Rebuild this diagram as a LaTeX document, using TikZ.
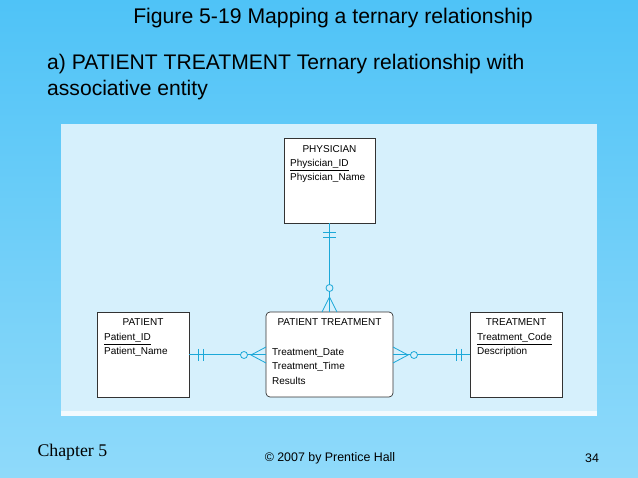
\documentclass[tikz,border=0pt]{standalone}
\usepackage{fontspec}
\setmainfont{Liberation Sans}
\newfontfamily\serifz{Liberation Serif}
\definecolor{bgtop}{HTML}{4FC3F7}
\definecolor{bgbot}{HTML}{8FDAFA}
\definecolor{panel}{HTML}{D6F0FC}
\definecolor{ln}{HTML}{1BA8D8}
\begin{document}
\begin{tikzpicture}[x=1pt,y=-1pt,
  ent/.style={draw=black!80,line width=0.7pt,fill=white,minimum width=92pt,minimum height=85pt,inner sep=0pt},
  etxt/.style={font=\fontsize{10}{14.5}\selectfont,align=left,anchor=north west,inner sep=0pt},
  rel/.style={draw=ln,line width=0.8pt}]
\shade[top color=bgtop,bottom color=bgbot] (0,0) rectangle (638,478);
\useasboundingbox (0,0) rectangle (638,478);
\fill[white!70!panel] (61,124) rectangle (597,416);
\fill[panel] (61,124) rectangle (597,411);
\node[font=\fontsize{21.2}{24}\selectfont] (title) at (333,18) {Figure 5-19 Mapping a ternary relationship};
\node[font=\fontsize{21.1}{26}\selectfont,align=left,anchor=north west,inner sep=0pt] (sub) at (47,54) {a) PATIENT TREATMENT Ternary relationship with\\associative entity};
% entities
\node[ent,minimum width=91pt] (phy) at (329.5,180.5) {};
\node[ent] (pat) at (143,354.5) {};
\node[ent,rounded corners=4pt,minimum width=127pt] (pt) at (329.5,354.5) {};
\node[ent] (trt) at (516,354.5) {};
\node[etxt,anchor=north] (phyh) at (329.5,145) {PHYSICIAN};
\node[etxt] (phya) at (290,159) {\underline{Physician\_ID}\\Physician\_Name};
\node[etxt,anchor=north] (path) at (143,318) {PATIENT};
\node[etxt] (pata) at (104,333) {\underline{Patient\_ID}\\Patient\_Name};
\node[etxt,anchor=north] (pth) at (329.5,318) {PATIENT TREATMENT};
\node[etxt] (pta) at (272,348) {Treatment\_Date\\Treatment\_Time\\Results};
\node[etxt,anchor=north] (trth) at (516,318) {TREATMENT};
\node[etxt] (trta) at (477,333) {\underline{Treatment\_Code}\\Description};
% relationships
\draw[rel] (phy.south) -- (pt.north);
\draw[rel] (pat.east) -- (pt.west);
\draw[rel] (pt.east) -- (trt.west);
% physician end
\draw[rel] (323,232) -- (336,232) (323,237) -- (336,237);
\draw[rel,fill=panel] (329.5,288) circle (3.5);
\draw[rel] (322,312) -- (329.5,297) -- (337,312);
% patient end
\draw[rel] (198,349) -- (198,361) (203,349) -- (203,361);
\draw[rel,fill=panel] (244,355) circle (3.5);
\draw[rel] (266,347) -- (251,355) -- (266,363);
% treatment end
\draw[rel] (456,349) -- (456,361) (461,349) -- (461,361);
\draw[rel,fill=panel] (414,355) circle (3.5);
\draw[rel] (393,347) -- (408,355) -- (393,363);
% footer
\node[font=\serifz\fontsize{17.8}{20}\selectfont,anchor=west] (ch) at (34,452) {Chapter 5};
\node[font=\fontsize{12.4}{14}\selectfont] (copy) at (330,458) {© 2007 by Prentice Hall};
\node[font=\fontsize{12.4}{14}\selectfont] (pg) at (592,458) {34};
\end{tikzpicture}
\end{document}
